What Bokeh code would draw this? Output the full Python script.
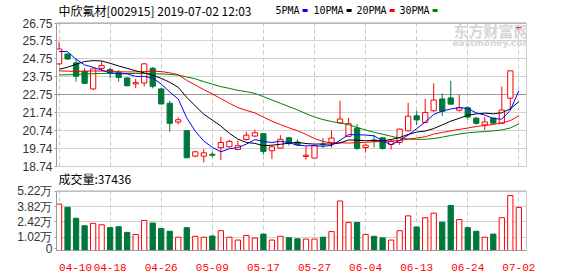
from bokeh.plotting import figure
from bokeh.models import (ColumnDataSource, FixedTicker, Label, Range1d, Grid,
                          CustomJSTickFormatter, BoxAnnotation)
from bokeh.layouts import column
from bokeh.embed import file_html
from bokeh.resources import INLINE

# ---------------- data ----------------
dates = ["04-10", "04-11", "04-12", "04-15", "04-16", "04-17", "04-18", "04-19", "04-22", "04-23",
         "04-24", "04-25", "04-26", "04-29", "04-30", "05-06", "05-07", "05-08", "05-09", "05-10",
         "05-13", "05-14", "05-15", "05-16", "05-17", "05-20", "05-21", "05-22", "05-23", "05-24",
         "05-27", "05-28", "05-29", "05-30", "05-31", "06-03", "06-04", "06-05", "06-06", "06-10",
         "06-11", "06-12", "06-13", "06-14", "06-17", "06-18", "06-19", "06-20", "06-24", "06-25",
         "06-26", "06-27", "06-28", "07-01", "07-02"]

open_ = [24.47, 25.02, 24.52, 24.06, 23.07, 24.22, 24.15, 24.00, 23.68, 23.35,
         23.40, 24.22, 23.07, 22.27, 21.22, 20.74, 19.32, 19.32, 19.42, 19.79,
         19.84, 19.69, 20.25, 20.44, 20.57, 19.62, 19.77, 20.34, 20.10, 19.30,
         19.21, 19.98, 20.07, 21.17, 20.42, 20.88, 19.80, 20.22, 20.34, 19.97,
         20.08, 20.73, 21.57, 21.20, 21.85, 22.51, 22.57, 21.88, 22.02, 21.44,
         21.06, 21.44, 21.16, 22.55, 26.49]
high = [25.71, 25.05, 24.78, 24.24, 24.20, 24.60, 24.25, 24.12, 23.72, 23.63,
        24.50, 24.30, 23.12, 22.41, 21.48, 20.74, 19.62, 19.71, 19.56, 20.40,
        20.23, 20.18, 20.68, 20.79, 20.59, 19.86, 20.49, 20.40, 20.25, 19.86,
        19.95, 20.33, 20.74, 22.41, 21.46, 21.11, 19.97, 20.50, 20.36, 20.22,
        20.85, 22.30, 21.85, 22.51, 23.38, 22.82, 23.52, 22.74, 22.10, 21.50,
        21.50, 21.48, 23.20, 24.08, 26.49]
low = [24.40, 24.70, 23.48, 23.35, 23.00, 24.06, 23.67, 23.47, 23.20, 23.11,
       23.21, 23.10, 22.20, 20.69, 21.09, 19.20, 19.25, 18.97, 19.25, 19.10,
       19.80, 19.65, 20.18, 20.40, 19.41, 19.15, 19.75, 19.90, 19.90, 19.13,
       19.20, 19.77, 19.80, 21.10, 20.40, 19.66, 19.52, 19.80, 19.68, 19.69,
       19.95, 20.70, 21.05, 21.15, 21.80, 21.56, 22.20, 21.80, 21.35, 21.07,
       20.78, 21.12, 21.12, 21.89, 26.30]
close = [25.30, 24.74, 23.78, 23.38, 24.19, 24.37, 24.00, 23.71, 23.25, 23.42,
         24.47, 23.22, 22.23, 21.15, 21.35, 19.23, 19.56, 19.50, 19.37, 20.08,
         20.14, 19.90, 20.49, 20.62, 19.58, 19.84, 20.26, 20.04, 19.95, 19.37,
         19.90, 19.96, 20.33, 21.39, 21.13, 19.75, 19.93, 20.17, 19.75, 20.13,
         20.83, 21.55, 21.34, 21.75, 22.45, 21.83, 22.22, 22.02, 21.50, 21.15,
         21.23, 21.16, 21.89, 24.08, 26.49]
# volume, in units of 万 (10,000 lots)
volume = [4.04, 3.76, 2.75, 2.07, 2.29, 2.16, 1.90, 1.98, 1.47, 1.28,
          2.55, 2.32, 1.82, 1.57, 1.03, 1.90, 1.11, 1.03, 1.14, 1.62,
          1.03, 0.77, 1.19, 0.95, 1.31, 0.77, 1.11, 0.97, 0.88, 0.86,
          0.86, 1.03, 1.54, 4.32, 2.37, 2.37, 1.28, 1.11, 0.97, 0.77,
          1.62, 2.97, 1.96, 2.80, 3.22, 2.40, 3.92, 2.63, 1.90, 1.57,
          1.03, 1.31, 2.80, 4.82, 3.74]
ma5 = [25.16, 25.15, 24.73, 24.41, 24.28, 24.12, 23.96, 23.93, 23.91, 23.77,
       23.77, 23.68, 23.34, 22.90, 22.50, 21.45, 20.71, 20.16, 19.81, 19.56,
       19.73, 19.79, 19.99, 20.24, 20.14, 20.08, 20.15, 20.07, 19.93, 19.89,
       19.90, 19.87, 19.92, 20.20, 20.52, 20.51, 20.50, 20.45, 20.17, 19.96,
       20.19, 20.49, 20.85, 21.22, 21.65, 21.83, 21.95, 22.03, 21.98, 21.73,
       21.61, 21.42, 21.38, 21.88, 22.97]
ma10 = [24.17, 24.28, 24.45, 24.60, 24.65, 24.63, 24.50, 24.35, 24.22, 24.08,
        23.97, 23.83, 23.66, 23.44, 23.16, 22.60, 22.12, 21.66, 21.33, 21.00,
        20.59, 20.27, 20.08, 20.03, 19.90, 19.93, 19.98, 20.04, 20.09, 20.02,
        19.99, 20.00, 19.99, 20.06, 20.22, 20.21, 20.18, 20.19, 20.17, 20.25,
        20.36, 20.53, 20.66, 20.72, 20.86, 21.06, 21.27, 21.43, 21.60, 21.68,
        21.72, 21.68, 21.74, 21.96, 22.36]
ma20 = [24.08, 24.06, 24.05, 24.06, 24.07, 24.07, 24.06, 24.03, 24.02, 24.02,
        24.04, 24.06, 24.04, 23.97, 23.86, 23.55, 23.29, 23.03, 22.79, 22.53,
        22.27, 22.03, 21.87, 21.73, 21.50, 21.27, 21.08, 20.90, 20.74, 20.53,
        20.30, 20.14, 20.05, 20.06, 20.05, 20.07, 20.09, 20.12, 20.14, 20.16,
        20.19, 20.27, 20.33, 20.40, 20.55, 20.64, 20.73, 20.81, 20.89, 20.97,
        21.03, 21.09, 21.17, 21.30, 21.57]
ma30 = [23.85, 23.86, 23.88, 23.90, 23.92, 23.93, 23.94, 23.94, 23.93, 23.93,
        23.93, 23.92, 23.91, 23.88, 23.84, 23.74, 23.63, 23.48, 23.33, 23.20,
        23.10, 22.99, 22.92, 22.82, 22.64, 22.45, 22.27, 22.08, 21.90, 21.69,
        21.50, 21.36, 21.25, 21.17, 21.07, 20.92, 20.78, 20.65, 20.54, 20.43,
        20.32, 20.27, 20.25, 20.26, 20.30, 20.38, 20.47, 20.55, 20.62, 20.66,
        20.69, 20.73, 20.78, 20.89, 21.12]

price_ticks = [18.74, 19.74, 20.74, 21.74, 22.75, 23.75, 24.75, 25.75, 26.75]
price_mid = 22.75
vol_ticks = [0, 1.02, 2.42, 3.82, 5.22]
vol_floor = -0.18
date_tick_step = 6
title_text = "中欣氟材[002915] 2019-07-02 12:03"
vol_title = "成交量:37436"
ma_names = ["5PMA", "10PMA", "20PMA", "30PMA"]

# ---------------- styling / layout (pixels) ----------------
W = 578
H1, H2 = 173, 103
ML, MR = 56, 52
P_TOP, P_BOT = 22.5, 166            # price box, canvas y of 26.75 and 18.74
V_TOP, V_BOT = 192, 256             # volume box, canvas y of 5.22 and the floor
RED = "#ff0000"
GREEN = "#00773a"
MA_COLORS = ["#0000ff", "#000000", "#ff0000", "#008000"]
AXIS_C = "#9a9a9a"
GRID_C = "#d2d2d2"
LABEL_C = "#333333"

n = len(dates)
xs = list(range(n))
up = [c >= o for o, c in zip(open_, close)]
src = ColumnDataSource(dict(
    x=xs, high=high, low=low,
    top=[max(o, c) for o, c in zip(open_, close)],
    bottom=[min(o, c) for o, c in zip(open_, close)],
    color=[RED if u else GREEN for u in up],
    fill=["#ffffff" if u else GREEN for u in up],
    vol=volume,
))

x_range = Range1d(-0.3, n - 0.1)
date_ticks = list(range(0, n, date_tick_step))


def panel(height, lo, hi, frame_px, box_px, bottom_border, ticks, grid_ticks):
    """Frame reaches the canvas top; the boxed chart area is lo..hi (box_px tall)."""
    y_end = lo + (hi - lo) * frame_px / box_px
    p = figure(width=W, height=height, x_range=x_range, y_range=Range1d(lo, y_end),
               output_backend="svg", toolbar_location=None,
               min_border_left=ML, min_border_right=MR,
               min_border_top=0, min_border_bottom=bottom_border)
    p.outline_line_color = None
    p.background_fill_color = "#ffffff"
    p.border_fill_color = "#ffffff"
    p.xgrid.ticker = FixedTicker(ticks=date_ticks)
    p.xgrid.grid_line_color = "#c8c8c8"
    p.xgrid.grid_line_dash = "4 3"
    p.xgrid.cross_bounds = (lo, hi)
    p.ygrid.ticker = FixedTicker(ticks=grid_ticks)
    p.ygrid.grid_line_color = GRID_C
    p.yaxis.ticker = FixedTicker(ticks=ticks)
    p.yaxis.bounds = (lo, hi)
    p.yaxis.axis_line_color = AXIS_C
    p.yaxis.major_tick_line_color = AXIS_C
    p.yaxis.major_tick_out = 2
    p.yaxis.major_tick_in = 0
    p.yaxis.minor_tick_line_color = None
    p.yaxis.major_label_standoff = 2
    p.yaxis.major_label_text_color = LABEL_C
    p.yaxis.major_label_text_font = "Liberation Sans"
    p.yaxis.major_label_text_font_size = "12px"
    p.add_layout(BoxAnnotation(bottom=lo, top=hi, fill_alpha=0, line_color=AXIS_C,
                               line_alpha=1, line_width=1, level="underlay"))
    return p


def lab(p, fb, cx, cy, text, **kw):
    """Label at canvas position (cx, cy); screen units run from the frame's left / bottom."""
    opts = dict(text_font="Noto Sans CJK SC", text_font_size="12px",
                text_color="#000000", text_baseline="middle")
    opts.update(kw)
    p.add_layout(Label(x=cx - ML, y=fb - cy, x_units="screen", y_units="screen",
                       text=text, **opts))


# ---------------- price panel (with header) ----------------
p1 = panel(H1, price_ticks[0], price_ticks[-1], P_BOT, P_BOT - P_TOP, H1 - P_BOT,
           price_ticks, [t for t in price_ticks if t != price_mid])
p1.xaxis.visible = False
p1.yaxis.formatter = CustomJSTickFormatter(code="return tick.toFixed(2);")
p1.add_layout(Grid(dimension=1, ticker=FixedTicker(ticks=[price_mid]),
                   grid_line_color="#9a9a9a"))

p1.segment(x0="x", y0="low", x1="x", y1="high", line_color="color", line_width=1, source=src)
p1.vbar(x="x", width=0.62, top="top", bottom="bottom", fill_color="fill",
        line_color="color", line_width=1, source=src)
for ma, col in zip([ma30, ma20, ma10, ma5], MA_COLORS[::-1]):
    p1.line(xs, ma, line_color=col, line_width=1)

lab(p1, P_BOT, 58, 10, title_text)
leg_x = [275, 313, 356, 399]
CW = 6.02   # glyph width of the 10px mono font
fw = W - ML - MR
px_to_x = lambda cx: x_range.start + (cx - ML) * (x_range.end - x_range.start) / fw
ppu = (P_BOT - P_TOP) / (price_ticks[-1] - price_ticks[0])
py_to_y = lambda cy: price_ticks[0] + (P_BOT - cy) / ppu
for name, lx in zip(ma_names, leg_x):
    lab(p1, P_BOT, lx, 10, name, text_font="DejaVu Sans Mono", text_font_size="10px")
p1.rect(x=[px_to_x(lx + CW * len(nm) + 5.5) for lx, nm in zip(leg_x, ma_names)],
        y=[py_to_y(10)] * 4, width=5, height=3, width_units="screen", height_units="screen",
        fill_color=MA_COLORS, line_color=None)

# watermark
lab(p1, P_BOT, 453, 30, "东方财富网", text_font_size="15px", text_font_style="bold",
    text_color="#d6d6d6")
lab(p1, P_BOT, 452, 42, "eastmoney.com", text_font="DejaVu Sans", text_font_size="9px",
    text_font_style="bold", text_color="#d6d6d6")

# ---------------- volume panel (with its title) ----------------
V_FRAME = V_BOT - H1
p2 = panel(H2, vol_floor, vol_ticks[-1], V_FRAME, V_BOT - V_TOP, H1 + H2 - V_BOT,
           vol_ticks, vol_ticks[1:-1])
p2.yaxis.formatter = CustomJSTickFormatter(
    code="return tick == 0 ? '0' : tick.toFixed(2) + '万';")
p2.xaxis.ticker = FixedTicker(ticks=date_ticks)
p2.xaxis.formatter = CustomJSTickFormatter(args=dict(labels=dates), code="""
    const s = labels[Math.round(tick)];
    return tick == 0 ? '\\u00a0\\u00a0\\u00a0\\u00a0\\u00a0' + s : s;""")
p2.xaxis.axis_line_color = AXIS_C
p2.xaxis.major_tick_line_color = None
p2.xaxis.minor_tick_line_color = None
p2.xaxis.major_label_standoff = 5
p2.xaxis.major_label_text_color = RED
p2.xaxis.major_label_text_font = "Liberation Mono"
p2.xaxis.major_label_text_font_size = "11px"

p2.vbar(x="x", width=0.62, top="vol", bottom=vol_floor, fill_color="fill",
        line_color="color", line_width=1, source=src)
lab(p2, V_FRAME, 58, 184 - H1, vol_title)

layout = column(p1, p2, spacing=0)
open("out.html", "w").write(file_html(layout, INLINE))
